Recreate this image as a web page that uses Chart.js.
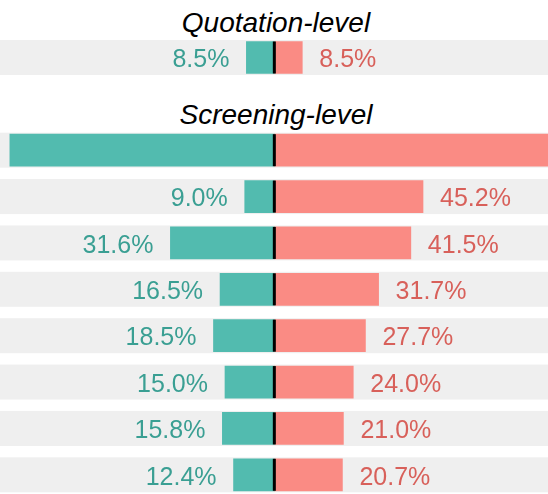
<!DOCTYPE html>
<html>
<head>
<meta charset="utf-8">
<script src="https://cdn.jsdelivr.net/npm/chart.js@4.4.0/dist/chart.umd.min.js"></script>
<style>
  html, body { margin: 0; padding: 0; background: #ffffff; width: 548px; height: 494px; overflow: hidden; }
  .title { position: absolute; left: 0; width: 552px; text-align: center; font-family: "Liberation Sans", Arial, sans-serif; font-style: italic; font-size: 28px; line-height: 28px; color: #000; white-space: nowrap; }
  .box { position: absolute; left: 0; width: 548px; }
</style>
</head>
<body>
<div class="title" style="top:9px;">Quotation-level</div>
<div class="box" style="top:34px;height:47px;"><canvas id="c1"></canvas></div>
<div class="title" style="top:101px;">Screening-level</div>
<div class="box" style="top:127px;height:371px;"><canvas id="c2"></canvas></div>
<script>
// ---- data ----
const quotationCategories = ['Quotation'];
const quotationLeft = [8.5];
const quotationRight = [8.5];

const screeningCategories = ['S1', 'S2', 'S3', 'S4', 'S5', 'S6', 'S7', 'S8'];
const screeningLeft = [80.4, 9.0, 31.6, 16.5, 18.5, 15.0, 15.8, 12.4];
const screeningRight = [90.0, 45.2, 41.5, 31.7, 27.7, 24.0, 21.0, 20.7];
const screeningShowLabels = [false, true, true, true, true, true, true, true];

const xMin = -83.4, xMax = 83.2;

const TEAL = '#52BBAF', SALMON = '#FA8B84';
const TEAL_TEXT = '#3A9F93', SALMON_TEXT = '#D8605A';
const BAND = '#EFEFEF';

const decorPlugin = {
  id: 'decor',
  beforeDatasetsDraw(chart) {
    const ctx = chart.ctx, y = chart.scales.y;
    ctx.save();
    ctx.fillStyle = BAND;
    chart.data.labels.forEach((_, i) => {
      const cy = y.getPixelForValue(i);
      ctx.fillRect(0, cy - 17.5, chart.width, 35);
    });
    ctx.restore();
  },
  afterDatasetsDraw(chart, args, opts) {
    const ctx = chart.ctx, x = chart.scales.x, y = chart.scales.y;
    const x0 = x.getPixelForValue(0);
    ctx.save();
    chart.data.labels.forEach((_, i) => {
      const cy = y.getPixelForValue(i);
      ctx.fillStyle = '#000';
      ctx.fillRect(x0 - 1.5, cy - 16, 3, 32);
      if (opts.show && !opts.show[i]) return;
      const lv = opts.left[i], rv = opts.right[i];
      ctx.font = '25px "Liberation Sans", Arial, sans-serif';
      ctx.textBaseline = 'alphabetic';
      ctx.fillStyle = TEAL_TEXT;
      ctx.textAlign = 'right';
      ctx.fillText(lv.toFixed(1) + '%', x.getPixelForValue(-lv) - 17, cy + 9.8);
      ctx.fillStyle = SALMON_TEXT;
      ctx.textAlign = 'left';
      ctx.fillText(rv.toFixed(1) + '%', x.getPixelForValue(rv) + 17, cy + 9.8);
    });
    ctx.restore();
  }
};

function makeChart(id, cats, left, right, show) {
  return new Chart(document.getElementById(id), {
    type: 'bar',
    data: {
      labels: cats,
      datasets: [
        { data: left.map(v => -v), backgroundColor: TEAL, barThickness: 32, borderWidth: 0 },
        { data: right, backgroundColor: SALMON, barThickness: 32, borderWidth: 0 }
      ]
    },
    options: {
      indexAxis: 'y',
      responsive: true,
      maintainAspectRatio: false,
      animation: false,
      layout: { padding: 0 },
      scales: {
        x: { stacked: true, min: xMin, max: xMax, display: false },
        y: { stacked: true, display: false, offset: true }
      },
      plugins: {
        legend: { display: false },
        tooltip: { enabled: false },
        decor: { left: left, right: right, show: show }
      }
    },
    plugins: [decorPlugin]
  });
}

makeChart('c1', quotationCategories, quotationLeft, quotationRight, null);
makeChart('c2', screeningCategories, screeningLeft, screeningRight, screeningShowLabels);
</script>
</body>
</html>
